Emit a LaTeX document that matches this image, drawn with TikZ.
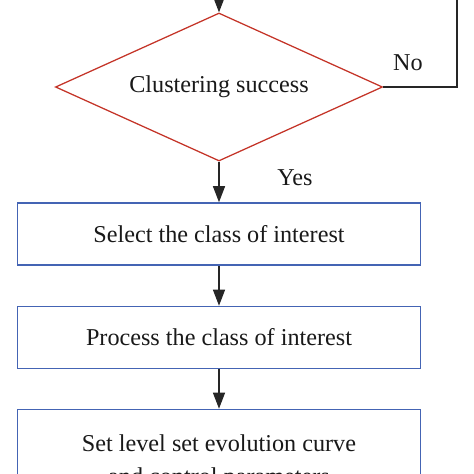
\documentclass[tikz,border=0pt]{standalone}
\usepackage{fontspec}
\setmainfont{Liberation Serif}
\usetikzlibrary{arrows.meta,shapes.geometric}
\definecolor{diared}{RGB}{196,52,40}
\definecolor{boxblue}{RGB}{68,100,180}

\begin{document}
\begin{tikzpicture}[x=0.025cm, y=-0.025cm,
    every node/.style={font=\fontsize{17.2}{23.5}\selectfont, text=black!90},
    decision/.style={draw=diared, line width=0.9pt, diamond, aspect=2.21, inner sep=0pt, minimum width=8.175cm, minimum height=3.7cm},
    stepbox/.style={draw=boxblue, line width=1.1pt, rectangle, minimum width=10.075cm, minimum height=1.55cm, align=center},
    flow/.style={-{Triangle[width=0.3cm, length=0.4cm]}, line width=0.8pt, black!85}]
    \useasboundingbox (0,0) rectangle (474,474);
    \clip (0,0) rectangle (474,474);

    % Decision
    \node[decision] (clus) at (219,87) {Clustering success};

    % Steps
    \node[stepbox] (sel) at (219,234) {Select the class of interest};
    \node[stepbox] (proc) at (219,337.5) {Process the class of interest};
    \node[stepbox, minimum height=2.65cm] (lvl) at (219,462.5) {Set level set evolution curve\\and control parameters};

    % Loop back
    \coordinate (join) at (219,-30);
    \draw[line width=0.8pt, black!85] (clus.east) -- (457,87) |- (join);
    \draw[flow] (join) -- (clus.north);

    % Arrows
    \draw[flow] (clus.south) -- (sel.north);
    \draw[flow] (sel.south) -- (proc.north);
    \draw[flow] (proc.south) -- (lvl.north);

    % Labels
    \node (no) at (408,63) {No};
    \node (yes) at (295,178) {Yes};
\end{tikzpicture}
\end{document}
